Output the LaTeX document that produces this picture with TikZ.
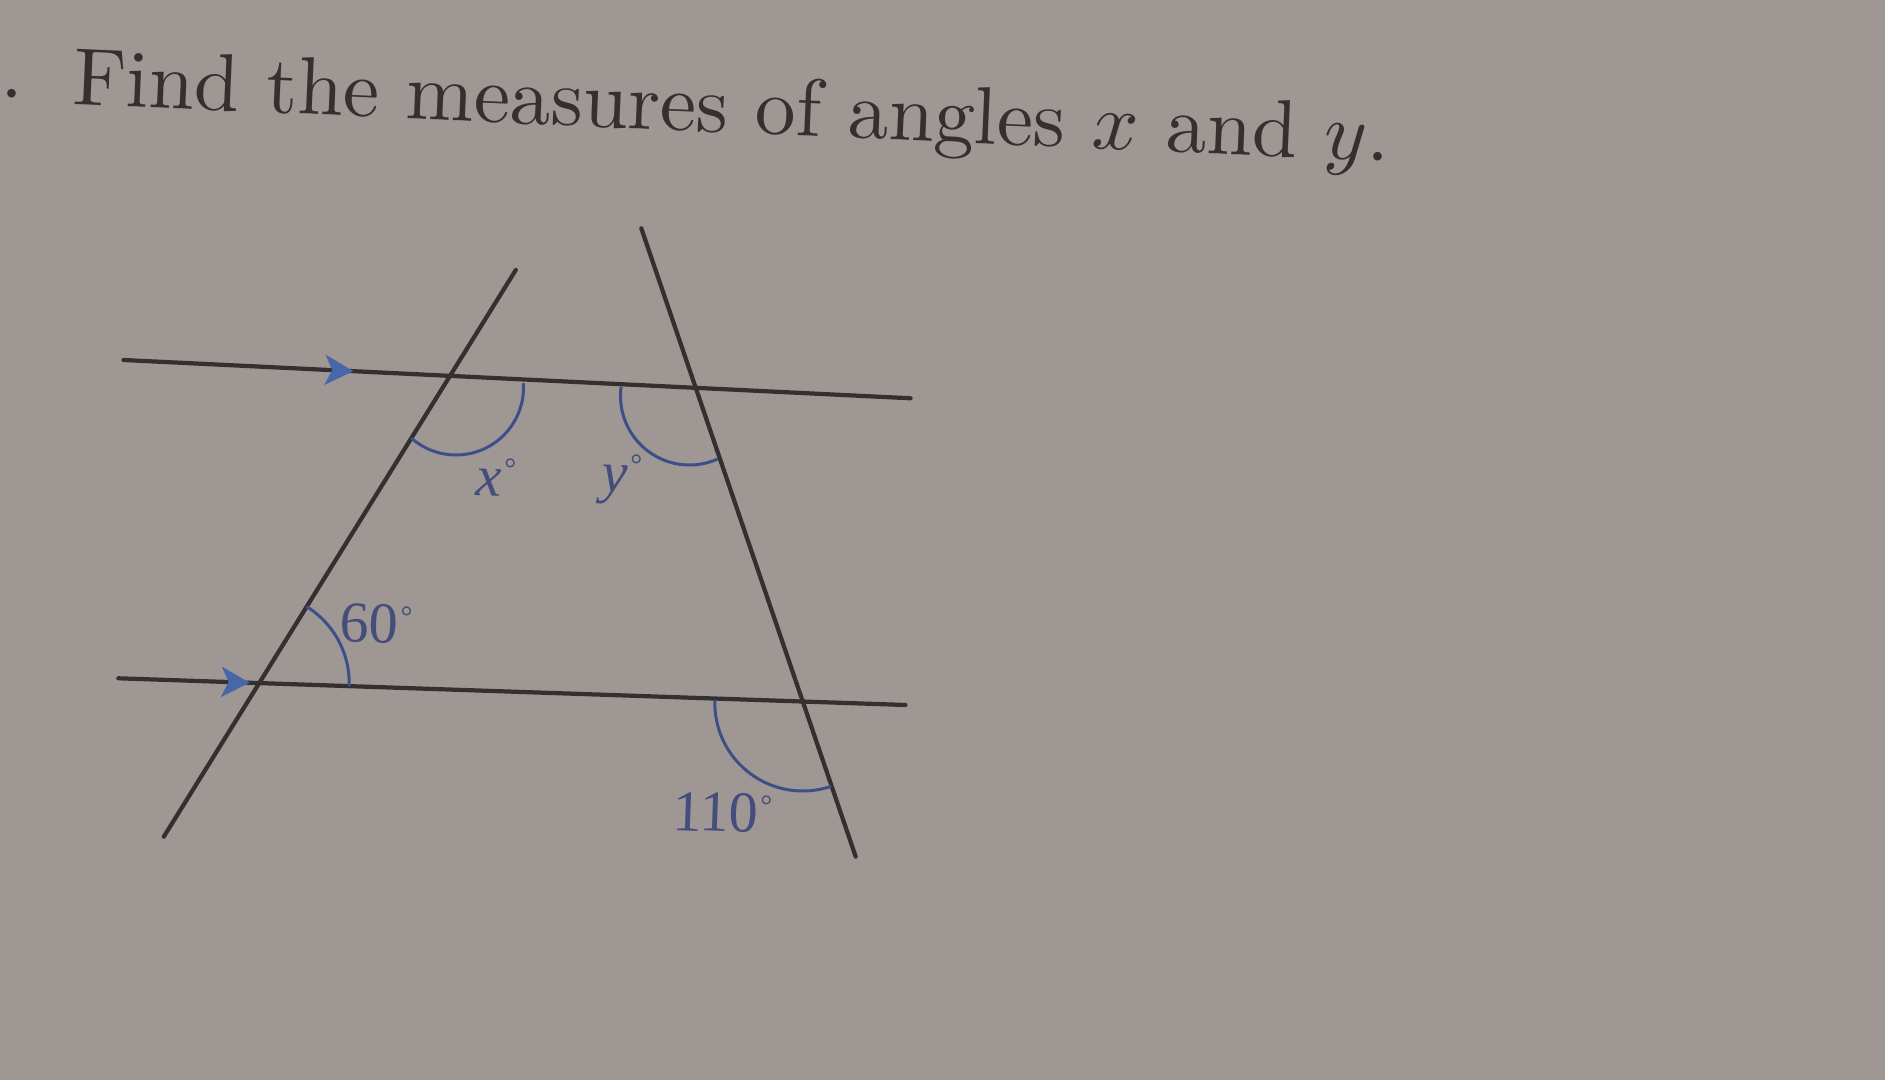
\documentclass[tikz,border=0pt]{standalone}
\usepackage{fontspec}
\newfontfamily\labelfont{Liberation Serif}
\usetikzlibrary{arrows.meta,decorations.markings,calc}
\definecolor{paper}{RGB}{159,151,148}
\definecolor{ink}{RGB}{52,48,48}
\definecolor{arcblue}{RGB}{62,78,135}
\definecolor{tipblue}{RGB}{72,102,168}
\definecolor{labelink}{RGB}{68,78,122}
\newcommand\dgr{\kern0.5pt\raisebox{5pt}{\fontsize{8.5pt}{8.5pt}\selectfont °}}
\begin{document}
\begin{tikzpicture}[x=0.01cm,y=-0.01cm,
  line/.style={draw=ink,line width=1.2pt,line cap=round},
  anglearc/.style={draw=arcblue,line width=0.85pt},
  lbl/.style={text=labelink,font=\labelfont\fontsize{16.5pt}{18pt}\selectfont,inner sep=0pt,anchor=base west,rotate=-2},
  ttl/.style={text=ink,inner sep=0pt,scale=2.315,rotate=-2.5},
  tipmark/.style={postaction={decorate},decoration={markings,mark=at position #1 with {\arrow{Stealth[length=8pt,width=8.5pt,inset=2pt,color=tipblue]}}}}
]
\useasboundingbox (0,0) rectangle (1885,1080);
\fill[paper] (0,0) rectangle (1885,1080);

% title
\node[ttl,anchor=base west] (title) at (71,104) {Find the measures of angles $x$ and $y$.};
\node[ttl,anchor=base] (dot) at (11.7,98.5) {.};

% line end points
\coordinate (T1) at (123.5,360);
\coordinate (T2) at (910.6,398.3);
\coordinate (B1) at (118.3,678.3);
\coordinate (B2) at (905.4,705);
\coordinate (L1) at (515.8,270);
\coordinate (L2) at (163.8,836.7);
\coordinate (R1) at (641.3,228.3);
\coordinate (R2) at (855.7,856.7);

% parallel lines with arrows
\draw[line,tipmark=0.292] (T1) -- (T2);
\draw[line,tipmark=0.167] (B1) -- (B2);
% transversals
\draw[line] (L1) -- (L2);
\draw[line] (R1) -- (R2);

% angle arcs
\draw[anglearc] plot[domain=-3.6:131.4,samples=60] ({456+67.5*cos(\x)},{387.5+67.5*sin(\x)});
\draw[anglearc] plot[domain=65.9:187.7,samples=60] ({689.5+69*cos(\x)},{396+69*sin(\x)});
\draw[anglearc] plot[domain=-58.2:1.9,samples=40] ({259.2+90*cos(\x)},{683.1+90*sin(\x)});
\draw[anglearc] plot[domain=71.2:181.9,samples=60] ({802.8+88*cos(\x)},{703+88*sin(\x)});

% labels
\node[lbl] (lx) at (475,495) {\textit{x}\dgr};
\node[lbl] (ly) at (601,491) {\textit{y}\dgr};
\node[lbl] (l60) at (339,641.7) {60\dgr};
\node[lbl] (l110) at (672,830) {110\dgr};
\end{tikzpicture}
\end{document}
